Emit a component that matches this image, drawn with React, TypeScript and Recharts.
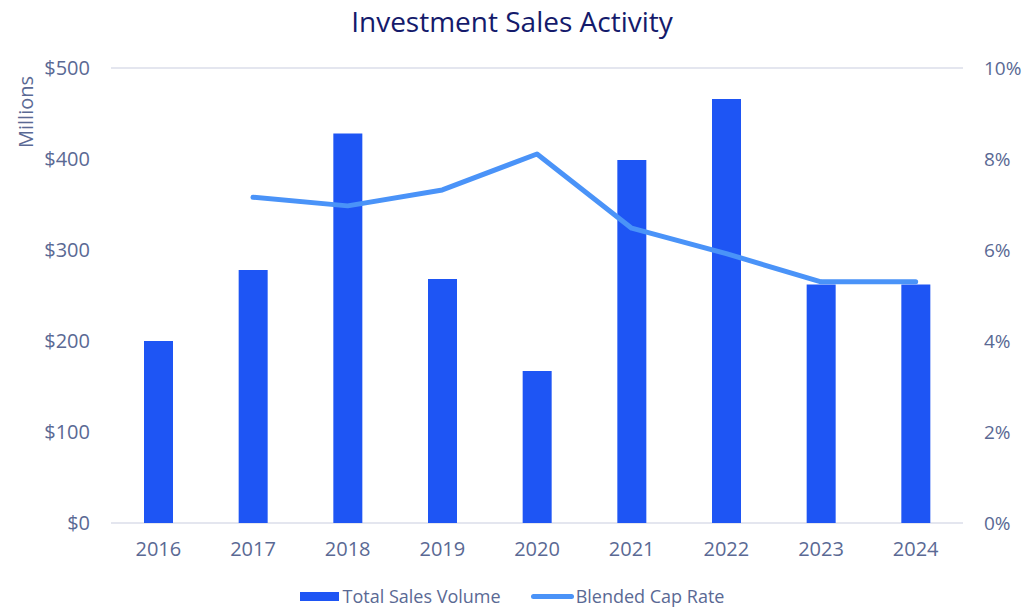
import React from 'react';
import { ComposedChart, Bar, Line, XAxis, YAxis, CartesianGrid } from 'recharts';

const years = ['2016', '2017', '2018', '2019', '2020', '2021', '2022', '2023', '2024'];
const salesVolume = [200, 278, 428, 268, 167, 399, 466, 262, 262];
const capRate: (number | null)[] = [null, 7.16, 6.97, 7.32, 8.11, 6.48, 5.92, 5.3, 5.3];
const leftTicks = [0, 100, 200, 300, 400, 500];
const rightTicks = [0, 2, 4, 6, 8, 10];

const data = years.map((y, i) => ({ year: y, volume: salesVolume[i], cap: capRate[i] }));

const FONT = '"Open Sans", sans-serif';
const TICK_COLOR = '#5a6994';
const BAR_COLOR = '#1e55f4';
const LINE_COLOR = '#4a93f8';

export default function App() {
  return (
    <div style={{ position: 'fixed', width: 1024, height: 616, left: 0, top: 0, overflow: 'hidden', background: '#fff', fontFamily: FONT }}>
      <div style={{ position: 'absolute', top: 2, left: 0, width: 1024, textAlign: 'center', fontSize: 28, color: '#141a6b', fontFamily: FONT }}>
        Investment Sales Activity
      </div>
      <div style={{ position: 'absolute', left: 25, top: 112, transform: 'translate(-50%, -50%) rotate(-90deg)', fontSize: 20, color: TICK_COLOR, whiteSpace: 'nowrap' }}>
        Millions
      </div>
      <ComposedChart width={1024} height={616} data={data} margin={{ top: 68, bottom: 63, left: 0, right: 0 }} barCategoryGap="0%">
        <CartesianGrid vertical={false} stroke="#e4e6ef" strokeWidth={2} />
        <XAxis dataKey="year" axisLine={false} tickLine={false} tickMargin={13} tick={{ fill: TICK_COLOR, fontSize: 20, fontFamily: FONT }} />
        <YAxis yAxisId="left" orientation="left" width={111} domain={[0, 500]} ticks={leftTicks} axisLine={false} tickLine={false} tickMargin={15}
          tickFormatter={(v: number) => `$${v}`} tick={{ fill: TICK_COLOR, fontSize: 20, fontFamily: FONT }} />
        <YAxis yAxisId="right" orientation="right" width={61} domain={[0, 10]} ticks={rightTicks} axisLine={false} tickLine={false} tickMargin={15}
          tickFormatter={(v: number) => `${v}%`} tick={{ fill: TICK_COLOR, fontSize: 19, fontFamily: FONT }} />
        <Bar yAxisId="left" dataKey="volume" fill={BAR_COLOR} barSize={29} isAnimationActive={false} />
        <Line yAxisId="right" dataKey="cap" stroke={LINE_COLOR} strokeWidth={5} dot={false} activeDot={false} strokeLinecap="round" strokeLinejoin="round" isAnimationActive={false} />
      </ComposedChart>
      <div style={{ position: 'absolute', top: 584, left: 0, width: 1024, display: 'flex', justifyContent: 'center', alignItems: 'center', fontSize: 18, color: TICK_COLOR }}>
        <div style={{ display: 'flex', alignItems: 'center', marginRight: 30 }}>
          <span style={{ display: 'inline-block', width: 39, height: 9, background: BAR_COLOR, marginRight: 4 }} />
          <span>Total Sales Volume</span>
        </div>
        <div style={{ display: 'flex', alignItems: 'center' }}>
          <span style={{ display: 'inline-block', width: 43, height: 5, borderRadius: 3, background: LINE_COLOR, marginRight: 2 }} />
          <span>Blended Cap Rate</span>
        </div>
      </div>
    </div>
  );
}
